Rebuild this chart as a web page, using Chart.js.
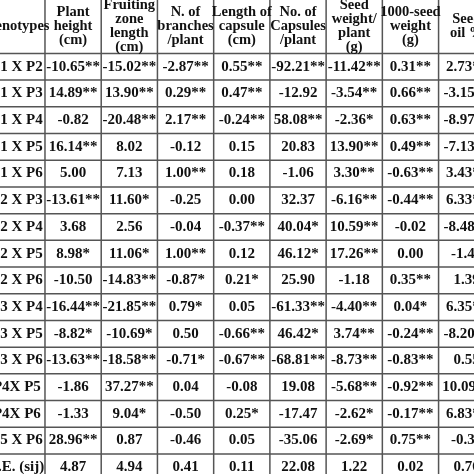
<!DOCTYPE html>
<html>
<head>
<meta charset="utf-8">
<script src="https://cdn.jsdelivr.net/npm/chart.js@4"></script>
<style>
  html, body { margin: 0; padding: 0; background: #fff; }
  #wrap { width: 474px; height: 474px; }
</style>
</head>
<body>
<div id="wrap"><canvas id="tbl" width="474" height="474"></canvas></div>
<script>
// table contents
const headers = [
  ["Genotypes"],
  ["Plant", "height", "(cm)"],
  ["Fruiting", "zone", "length", "(cm)"],
  ["N. of", "branches", "/plant"],
  ["Length of", "capsule", "(cm)"],
  ["No. of", "Capsules", "/plant"],
  ["Seed", "weight/", "plant", "(g)"],
  ["1000-seed", "weight", "(g)"],
  ["Seed", "oil %"]
];
const genotypes = ["P1 X P2", "P1 X P3", "P1 X P4", "P1 X P5", "P1 X P6", "P2 X P3", "P2 X P4",
  "P2 X P5", "P2 X P6", "P3 X P4", "P3 X P5", "P3 X P6", "P4X P5", "P4X P6", "P5 X P6", "S.E. (sij)"];
const plantHeight = ["-10.65**", "14.89**", "-0.82", "16.14**", "5.00", "-13.61**", "3.68", "8.98*", "-10.50", "-16.44**", "-8.82*", "-13.63**", "-1.86", "-1.33", "28.96**", "4.87"];
const fruitingZone = ["-15.02**", "13.90**", "-20.48**", "8.02", "7.13", "11.60*", "2.56", "11.06*", "-14.83**", "-21.85**", "-10.69*", "-18.58**", "37.27**", "9.04*", "0.87", "4.94"];
const branches = ["-2.87**", "0.29**", "2.17**", "-0.12", "1.00**", "-0.25", "-0.04", "1.00**", "-0.87*", "0.79*", "0.50", "-0.71*", "0.04", "-0.50", "-0.46", "0.41"];
const capsuleLength = ["0.55**", "0.47**", "-0.24**", "0.15", "0.18", "0.00", "-0.37**", "0.12", "0.21*", "0.05", "-0.66**", "-0.67**", "-0.08", "0.25*", "0.05", "0.11"];
const capsules = ["-92.21**", "-12.92", "58.08**", "20.83", "-1.06", "32.37", "40.04*", "46.12*", "25.90", "-61.33**", "46.42*", "-68.81**", "19.08", "-17.47", "-35.06", "22.08"];
const seedWeight = ["-11.42**", "-3.54**", "-2.36*", "13.90**", "3.30**", "-6.16**", "10.59**", "17.26**", "-1.18", "-4.40**", "3.74**", "-8.73**", "-5.68**", "-2.62*", "-2.69*", "1.22"];
const seed1000 = ["0.31**", "0.66**", "0.63**", "0.49**", "-0.63**", "-0.44**", "-0.02", "0.00", "0.35**", "0.04*", "-0.24**", "-0.83**", "-0.92**", "-0.17**", "0.75**", "0.02"];
const seedOil = ["2.73**", "-3.15**", "-8.97**", "-7.13**", "3.43**", "6.33**", "-8.48**", "-1.46", "1.39", "6.35**", "-8.20**", "0.55", "10.09**", "6.83**", "-0.34", "0.76"];

const columns = [genotypes, plantHeight, fruitingZone, branches, capsuleLength, capsules, seedWeight, seed1000, seedOil];
const headerRows = 2;

const tablePlugin = {
  id: "tablePlugin",
  afterDraw(chart) {
    const ctx = chart.ctx;
    const x = chart.scales.x, y = chart.scales.y;
    const nRows = genotypes.length;
    ctx.save();
    ctx.strokeStyle = "#555";
    ctx.lineWidth = 1.5;
    // vertical lines
    for (let c = 0; c <= columns.length; c++) {
      const px = x.getPixelForValue(c);
      ctx.beginPath();
      ctx.moveTo(px, y.getPixelForValue(0));
      ctx.lineTo(px, y.getPixelForValue(headerRows + nRows));
      ctx.stroke();
    }
    // horizontal lines
    for (let r = headerRows; r <= headerRows + nRows; r++) {
      const py = y.getPixelForValue(r);
      ctx.beginPath();
      ctx.moveTo(x.getPixelForValue(0), py);
      ctx.lineTo(x.getPixelForValue(columns.length), py);
      ctx.stroke();
    }
    ctx.fillStyle = "#111";
    ctx.textAlign = "center";
    ctx.textBaseline = "middle";
    // header
    ctx.font = "bold 14.5px 'Liberation Serif', serif";
    headers.forEach((lines, c) => {
      const cx = x.getPixelForValue(c + 0.5);
      const cy = y.getPixelForValue(headerRows / 2);
      const lh = 14;
      lines.forEach((t, i) => {
        ctx.fillText(t, cx, cy + (i - (lines.length - 1) / 2) * lh);
      });
    });
    // body
    ctx.font = "bold 15px 'Liberation Serif', serif";
    columns.forEach((col, c) => {
      const cx = x.getPixelForValue(c + 0.5);
      col.forEach((t, r) => {
        ctx.fillText(t, cx, y.getPixelForValue(headerRows + r + 0.5));
      });
    });
    ctx.restore();
  }
};

new Chart(document.getElementById("tbl").getContext("2d"), {
  type: "scatter",
  data: { datasets: [{ data: [] }] },
  options: {
    responsive: false,
    animation: false,
    layout: { padding: 0 },
    plugins: { legend: { display: false }, tooltip: { enabled: false } },
    scales: {
      x: { type: "linear", min: 0.2, max: 8.63, display: false },
      y: { type: "linear", min: 0, max: 17.75, reverse: true, display: false }
    }
  },
  plugins: [tablePlugin]
});
</script>
</body>
</html>
